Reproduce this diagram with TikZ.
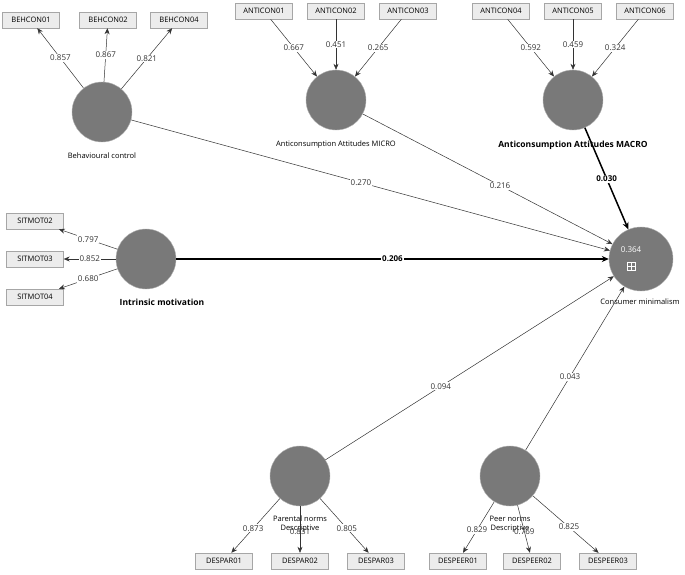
\documentclass[tikz,border=0pt]{standalone}
\usepackage{fontspec}
\setmainfont{Open Sans}
\usetikzlibrary{arrows.meta}
\begin{document}
\begin{tikzpicture}[x=1pt,y=-1pt,
  lv/.style={circle,fill=gray!95!black,draw=gray!60,minimum size=60pt,inner sep=0pt},
  ind/.style={draw=gray!70,fill=gray!15,minimum width=57pt,minimum height=16pt,inner sep=1pt,font=\fontsize{7.5}{8}\selectfont},
  ar/.style={-{Stealth[length=6pt,width=5pt]},black!80,line width=0.5pt},
  bar/.style={-{Stealth[length=7pt,width=6pt]},black,line width=1.5pt},
  wl/.style={fill=white,inner sep=1pt,font=\fontsize{8}{8}\selectfont},
  bl/.style={fill=white,inner sep=1pt,font=\fontsize{8}{8}\selectfont\bfseries},
  nl/.style={font=\fontsize{7.5}{9}\selectfont,align=center}]
\useasboundingbox (0,0) rectangle (685,574);
% latent variables
\node[lv] (BC) at (102,112) {};
\node[lv] (MI) at (336,100) {};
\node[lv] (MA) at (573,100) {};
\node[lv] (IM) at (146,259) {};
\node[lv,minimum size=64pt] (CM) at (641,259) {};
\node[lv] (PN) at (300,476) {};
\node[lv] (PE) at (510,476) {};
\node[font=\fontsize{8}{8}\selectfont,text=white] (r2) at (631,250) {0.364};
\node[draw=white,line width=0.5pt,minimum size=8pt,inner sep=0pt] (pl) at (631,266) {};
\draw[white,line width=0.6pt] (627.5,266) -- (634.5,266) (631,262.5) -- (631,269.5);
% labels
\node[nl] (lBC) at (102,156) {Behavioural control};
\node[nl] (lMI) at (336,145) {Anticonsumption Attitudes MICRO};
\node[nl,font=\fontsize{8.5}{9}\selectfont\bfseries] (lMA) at (573,145) {Anticonsumption Attitudes MACRO};
\node[nl,font=\fontsize{8.5}{9}\selectfont\bfseries] (lIM) at (162,302) {Intrinsic motivation};
\node[nl] (lCM) at (640,302) {Consumer minimalism};
\node[nl] (lPN) at (300,524) {Parental norms\\Descriptive};
\node[nl] (lPE) at (510,524) {Peer norms\\Descriptive};
% indicators
\node[ind] (b1) at (31,20) {BEHCON01};
\node[ind] (b2) at (108,20) {BEHCON02};
\node[ind] (b4) at (179,20) {BEHCON04};
\node[ind] (a1) at (264,11) {ANTICON01};
\node[ind] (a2) at (336,11) {ANTICON02};
\node[ind] (a3) at (408,11) {ANTICON03};
\node[ind] (a4) at (501,11) {ANTICON04};
\node[ind] (a5) at (573,11) {ANTICON05};
\node[ind] (a6) at (645,11) {ANTICON06};
\node[ind] (s2) at (35,221) {SITMOT02};
\node[ind] (s3) at (35,259) {SITMOT03};
\node[ind] (s4) at (35,297) {SITMOT04};
\node[ind] (d1) at (224,561) {DESPAR01};
\node[ind] (d2) at (300,561) {DESPAR02};
\node[ind] (d3) at (376,561) {DESPAR03};
\node[ind] (e1) at (458,561) {DESPEER01};
\node[ind] (e2) at (532,561) {DESPEER02};
\node[ind] (e3) at (608,561) {DESPEER03};
% outer loadings
\draw[ar] (BC) -- node[wl,pos=0.5]{0.857} (b1);
\draw[ar] (BC) -- node[wl,pos=0.5]{0.867} (b2);
\draw[ar] (BC) -- node[wl,pos=0.5]{0.821} (b4);
\draw[ar] (a1) -- node[wl,pos=0.5]{0.667} (MI);
\draw[ar] (a2) -- node[wl,pos=0.5]{0.451} (MI);
\draw[ar] (a3) -- node[wl,pos=0.5]{0.265} (MI);
\draw[ar] (a4) -- node[wl,pos=0.5]{0.592} (MA);
\draw[ar] (a5) -- node[wl,pos=0.5]{0.459} (MA);
\draw[ar] (a6) -- node[wl,pos=0.5]{0.324} (MA);
\draw[ar] (IM) -- node[wl,pos=0.5]{0.797} (s2);
\draw[ar] (IM) -- node[wl,pos=0.5]{0.852} (s3);
\draw[ar] (IM) -- node[wl,pos=0.5]{0.680} (s4);
\draw[ar] (PN) -- node[wl,pos=0.55]{0.873} (d1);
\draw[ar] (PN) -- node[fill=none,inner sep=1pt,font=\fontsize{8}{8}\selectfont,pos=0.55]{0.831} (d2);
\draw[ar] (PN) -- node[wl,pos=0.55]{0.805} (d3);
\draw[ar] (PE) -- node[wl,pos=0.55]{0.829} (e1);
\draw[ar] (PE) -- node[fill=none,inner sep=1pt,font=\fontsize{8}{8}\selectfont,pos=0.55]{0.769} (e2);
\draw[ar] (PE) -- node[wl,pos=0.55]{0.825} (e3);
% structural paths
\draw[ar] (BC) -- node[wl,pos=0.48]{0.270} (CM);
\draw[ar] (MI) -- node[wl,pos=0.55]{0.216} (CM);
\draw[bar] (MA) -- node[bl,pos=0.5]{0.030} (CM);
\draw[bar] (IM) -- node[bl,pos=0.5]{0.206} (CM);
\draw[ar] (PN) -- node[wl,pos=0.4]{0.094} (CM);
\draw[ar] (PE) -- node[wl,pos=0.45]{0.043} (CM);
\end{tikzpicture}
\end{document}
